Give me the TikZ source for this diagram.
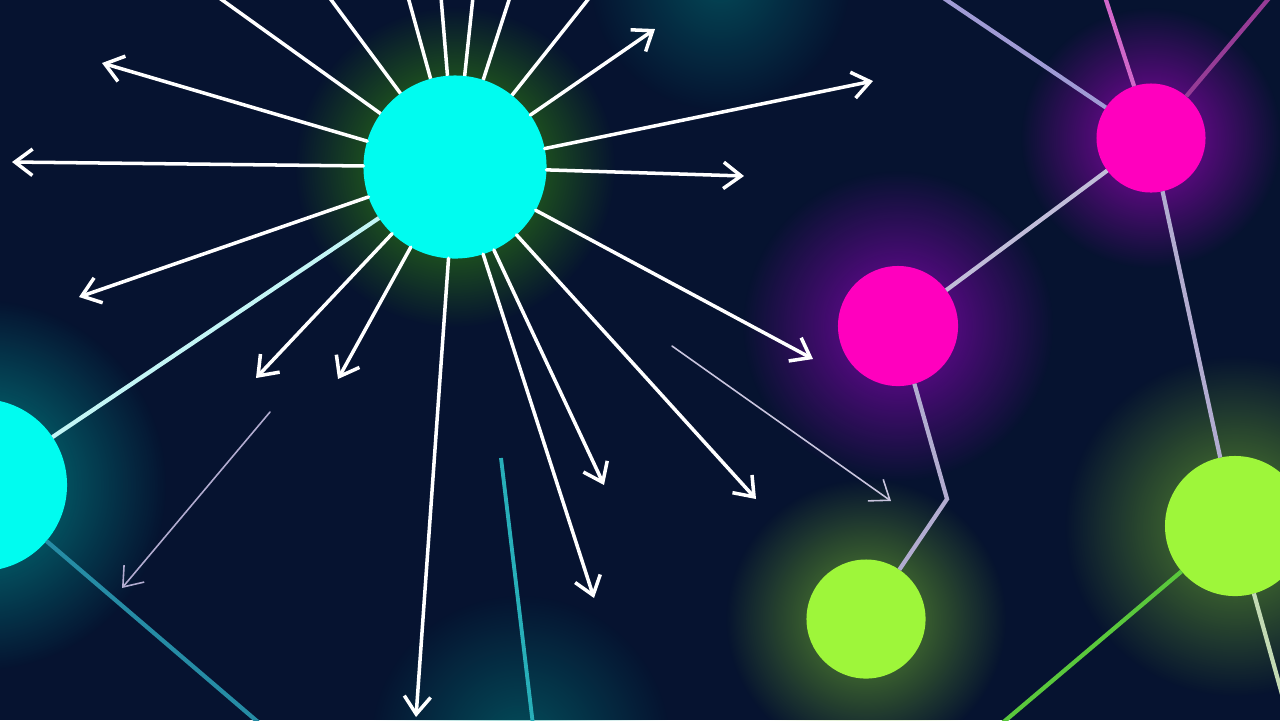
\documentclass[tikz,border=0pt]{standalone}
\usetikzlibrary{arrows.meta,backgrounds,fadings}

\definecolor{night}{RGB}{6,19,48}
\definecolor{aqua}{RGB}{0,252,240}
\definecolor{rose}{RGB}{255,0,190}
\definecolor{leaf}{RGB}{158,246,58}
\definecolor{haze}{RGB}{178,172,208}
\definecolor{frost}{RGB}{195,245,245}
\definecolor{deepsea}{RGB}{38,140,165}
\definecolor{stub}{RGB}{40,175,185}
\definecolor{plum}{RGB}{150,60,150}
\definecolor{grass}{RGB}{90,200,60}

\tikzfading[name=glowfade, inner color=transparent!0, outer color=transparent!100]

\tikzstyle{blob}=[shape=circle,inner sep=0pt,outer sep=0pt]
\tikzstyle{ray}=[draw=white,line width=1pt,line cap=round,line join=round,-{Straight Barb[length=5pt,width=7.5pt]}]
\tikzstyle{spoke}=[draw=white,line width=1pt]
\tikzstyle{faint ray}=[draw=haze!70!white,line width=0.45pt,line cap=round,-{Straight Barb[length=5pt,width=7.5pt]}]
\tikzstyle{link}=[draw=haze,line width=1.2pt]
\tikzstyle{glow}=[path fading=glowfade]

\begin{document}
\begin{tikzpicture}[x=0.01cm,y=-0.01cm]
        \useasboundingbox (0,0) rectangle (1280,720);
        \clip (0,0) rectangle (1280,720);

        % circles
        \node[blob,fill=aqua,minimum size=1.83cm] (c0) at (455,167) {};
        \node[blob,fill=aqua,minimum size=1.72cm] (c1) at (-19,485) {};
        \node[blob,fill=rose,minimum size=1.09cm] (p0) at (1151,138) {};
        \node[blob,fill=rose,minimum size=1.2cm] (p1) at (898,326) {};
        \node[blob,fill=leaf,minimum size=1.19cm] (g0) at (866,619) {};
        \node[blob,fill=leaf,minimum size=1.4cm] (g1) at (1235,526) {};

        % glows
        \begin{scope}[on background layer]
            \clip (0,0) rectangle (1280,720);
            \fill[night] (0,0) rectangle (1280,720);
            \fill[glow,green!50!lime!75!black,fill opacity=0.75] (c0) circle (1.6cm);
            \fill[glow,aqua!70!black,fill opacity=0.7] (c1) circle (1.85cm);
            \fill[glow,rose!70!blue,fill opacity=0.75] (p0) circle (1.3cm);
            \fill[glow,rose!65!blue,fill opacity=0.7] (p1) circle (1.55cm);
            \fill[glow,leaf!75!black,fill opacity=0.75] (g0) circle (1.4cm);
            \fill[glow,leaf!75!black,fill opacity=0.7] (g1) circle (1.7cm);
            \fill[glow,aqua!60!black,fill opacity=0.4] (720,-20) circle (1.3cm);
            \fill[glow,aqua!60!black,fill opacity=0.45] (520,745) circle (1.5cm);
        \end{scope}

        % free ends
        \coordinate (t1) at (655,29);
        \coordinate (t2) at (873,81);
        \coordinate (t3) at (744,176);
        \coordinate (t4) at (813,359);
        \coordinate (t5) at (756,499);
        \coordinate (t6) at (604,485);
        \coordinate (t7) at (594,598);
        \coordinate (t8) at (416,717);
        \coordinate (t9) at (338,379);
        \coordinate (t10) at (256,378);
        \coordinate (t11) at (79,297);
        \coordinate (t12) at (12,162);
        \coordinate (t13) at (102,63);
        \coordinate (u1) at (218,-3);
        \coordinate (u2) at (329,-3);
        \coordinate (u3) at (408,-3);
        \coordinate (u4) at (441,-3);
        \coordinate (u5) at (473,-3);
        \coordinate (u6) at (510,-3);
        \coordinate (u7) at (590,-3);

        % rays
        \draw[ray] (c0) -- (t1);
        \draw[ray] (c0) -- (t2);
        \draw[ray] (c0) -- (t3);
        \draw[ray] (c0) -- (t4);
        \draw[ray] (c0) -- (t5);
        \draw[ray] (c0) -- (t6);
        \draw[ray] (c0) -- (t7);
        \draw[ray] (c0) -- (t8);
        \draw[ray] (c0) -- (t9);
        \draw[ray] (c0) -- (t10);
        \draw[ray] (c0) -- (t11);
        \draw[ray] (c0) -- (t12);
        \draw[ray] (c0) -- (t13);
        \draw[spoke] (c0) -- (u1);
        \draw[spoke] (c0) -- (u2);
        \draw[spoke] (c0) -- (u3);
        \draw[spoke] (c0) -- (u4);
        \draw[spoke] (c0) -- (u5);
        \draw[spoke] (c0) -- (u6);
        \draw[spoke] (c0) -- (u7);

        % loose arrows
        \coordinate (f1) at (672,346);
        \coordinate (f2) at (891,501);
        \coordinate (f3) at (270,412);
        \coordinate (f4) at (122,588);
        \coordinate (f5) at (501,458);
        \coordinate (f6) at (533,725);
        \draw[faint ray] (f1) -- (f2);
        \draw[faint ray,draw=haze] (f3) -- (f4);
        \draw[stub,line width=1.1pt] (f5) -- (f6);

        % links
        \coordinate (e1) at (258,722);
        \coordinate (e2) at (942,-3);
        \coordinate (e3) at (1105,-3);
        \coordinate (e4) at (1270,-3);
        \coordinate (e5) at (1000,725);
        \coordinate (e6) at (1285,705);
        \coordinate (k1) at (947,499);
        \draw[link,draw=frost] (c0) -- (c1);
        \draw[link,draw=deepsea] (c1) -- (e1);
        \draw[link,draw=haze!90!blue] (p0) -- (e2);
        \draw[link,draw=haze!60!rose] (p0) -- (e3);
        \draw[link,draw=plum] (p0) -- (e4);
        \draw[link,draw=haze!80!white] (p0) -- (p1);
        \draw[link] (p0) -- (g1);
        \draw[link] (p1) -- (k1) -- (g0);
        \draw[link,draw=grass] (g1) -- (e5);
        \draw[link,draw=haze!60!leaf!70!white] (g1) -- (e6);
    \end{tikzpicture}
\end{document}
